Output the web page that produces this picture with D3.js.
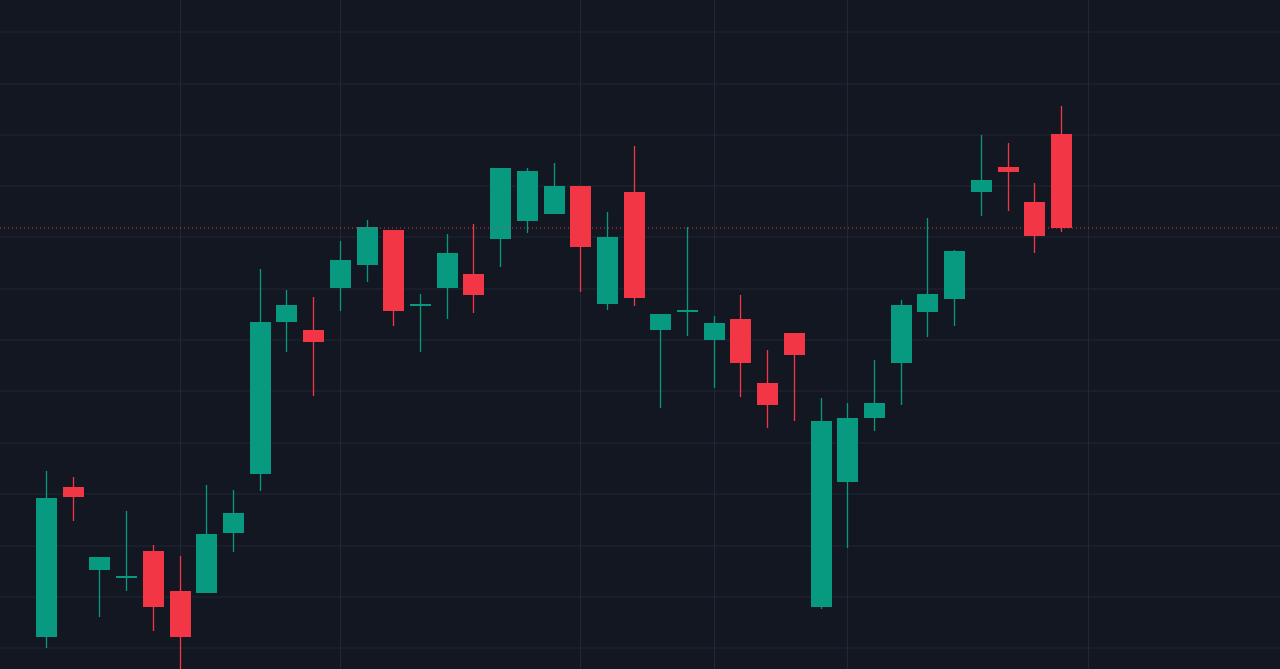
<!DOCTYPE html>
<html><head><meta charset="utf-8">
<script src="https://cdn.jsdelivr.net/npm/d3@7"></script>
<style>html,body{margin:0;padding:0;background:#131722;overflow:hidden}</style>
</head><body>
<svg id="c" width="1280" height="669"></svg>
<script>
const opens  = [63,213,130,122,149,109,107,167,226,378,370,412,435,470,394,412,426,461,479,486,514,396,508,370,388,360,381,317,367,93,218,282,337,388,401,508,533,498,566];
const highs  = [229,223,143,189,155,144,215,210,431,410,403,459,480,470,406,466,476,532,532,537,514,488,554,386,473,384,405,350,367,302,297,340,400,482,450,565,557,517,594];
const lows   = [52,179,83,109,69,31,107,148,209,348,304,389,418,374,348,381,387,433,467,486,408,390,394,292,364,312,303,272,279,91,152,269,295,363,374,484,489,447,468];
const closes = [202,203,143,124,93,63,166,187,378,395,358,440,473,389,396,447,405,532,529,514,453,463,402,386,390,377,337,295,345,279,282,297,395,406,449,520,528,464,472];
const lastPrice = 472;
const gridValues = [668,616,565,514,463,411,360,309,257,206,154,103,52];
const gridIndices = [5,11,20,25,30,39];

const svg = d3.select("#c");
const W = 1280, H = 669;
svg.append("rect").attr("width",W).attr("height",H).attr("fill","#131722");
const x = d3.scaleLinear().domain([0,38]).range([46,1061]);
const y = d3.scaleLinear().domain([700,31]).range([0,H]);

svg.selectAll(".hg").data(gridValues).enter().append("line")
  .attr("x1",0).attr("x2",W).attr("y1",d=>y(d)).attr("y2",d=>y(d))
  .attr("stroke","#232733").attr("stroke-width",1);
svg.selectAll(".vg").data(gridIndices).enter().append("line")
  .attr("y1",0).attr("y2",H).attr("x1",d=>Math.round(x(d))+0.5).attr("x2",d=>Math.round(x(d))+0.5)
  .attr("stroke","#232733").attr("stroke-width",1);

const data = opens.map((o,i)=>({i,o,h:highs[i],l:lows[i],c:closes[i]}));
const col = d => d.c >= d.o ? "#089981" : "#f23645";
const bw = 21;
const g = svg.selectAll(".k").data(data).enter().append("g");
g.append("line")
  .attr("x1",d=>Math.round(x(d.i))+0.5).attr("x2",d=>Math.round(x(d.i))+0.5)
  .attr("y1",d=>y(d.h)).attr("y2",d=>y(d.l)).attr("stroke",col).attr("stroke-width",1.3);
g.append("rect")
  .attr("x",d=>Math.round(x(d.i))-bw/2+0.5).attr("width",bw)
  .attr("y",d=>y(Math.max(d.o,d.c)))
  .attr("height",d=>Math.max(2,Math.abs(y(d.o)-y(d.c))))
  .attr("fill",col);

svg.append("line").attr("x1",0).attr("x2",W).attr("y1",y(lastPrice)).attr("y2",y(lastPrice))
  .attr("stroke","#f23645").attr("stroke-width",1).attr("stroke-dasharray","1,3");
</script>
</body></html>
